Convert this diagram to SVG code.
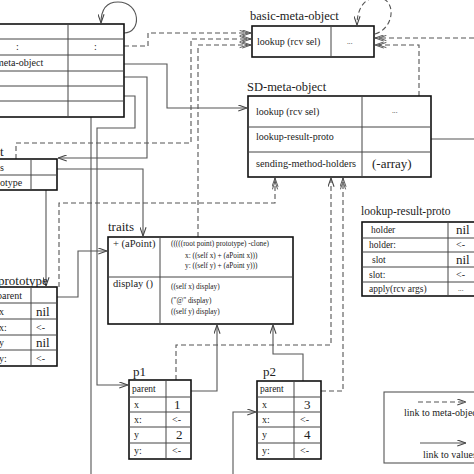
<svg xmlns="http://www.w3.org/2000/svg" width="474" height="474" viewBox="0 0 474 474">
<defs>
<style>
.box{fill:#fff;stroke:#111;stroke-width:1.6}
.cl{stroke:#444;stroke-width:1;fill:none}
.ln{stroke:#555;stroke-width:1.1;fill:none}
.dl{stroke:#555;stroke-width:1.1;fill:none;stroke-dasharray:5,3}
text{font-family:"Liberation Serif","Times New Roman",serif;fill:#222}
.t{font-size:12.5px}
.c{font-size:10px}
.s{font-size:7.3px}
.v{font-size:13px}
</style>
<marker id="a" viewBox="0 0 10 8" refX="10" refY="4" markerWidth="9" markerHeight="7" orient="auto" markerUnits="userSpaceOnUse"><path d="M0,0.5 L10,4 L0,7.5" fill="none" stroke="#444" stroke-width="1.2"/></marker>
<marker id="d" viewBox="0 0 13 8" refX="13" refY="4" markerWidth="12" markerHeight="7" orient="auto" markerUnits="userSpaceOnUse"><path d="M3,0.5 L13,4 L3,7.5 M0,1 L9,4 L0,7" fill="none" stroke="#444" stroke-width="1"/></marker>
</defs>
<rect width="474" height="474" fill="#fff"/>

<g id="connectors">
<path class="ln" d="M91,64 L167,64 L167,108 L247,108" marker-end="url(#a)"/>
<path class="ln" d="M91,77 L147,77 L147,158 L58,158" marker-end="url(#a)"/>
<path class="ln" d="M91,96 L135,96 L135,128 L97,128 L97,385 L128,385" marker-end="url(#a)"/>
<path class="ln" d="M91,112 L91,474"/>
<path class="ln" d="M46,169 L143,169 L143,236" marker-end="url(#a)"/>
<path class="ln" d="M46,179 L46,286" marker-end="url(#a)"/>
<path class="ln" d="M41,297 L78,297 L78,251 L107,251" marker-end="url(#a)"/>
<path class="ln" d="M181,391 L217,391 L217,325" marker-end="url(#a)"/>
<path class="ln" d="M303,389 L303,354 L273,354 L273,325" marker-end="url(#a)"/>
<path class="ln" d="M233,474 L233,412 L256,412" marker-end="url(#a)"/>
<path class="ln" d="M393,139 L474,139"/>
<path class="ln" d="M107,33 L124,33 C142,33 141,2 118,2 C105,2 101,12 101,23" marker-end="url(#a)"/>
<path class="dl" d="M124,46 L148,46 L148,33 L251,33" marker-end="url(#d)"/>
<path class="dl" d="M16,159 L16,143 L191,143 L191,39 L251,39" marker-end="url(#d)"/>
<path class="dl" d="M198,237 L198,45 L251,45" marker-end="url(#d)"/>
<path class="dl" d="M59,287 L59,203 L275,203 L275,178" marker-end="url(#d)"/>
<path class="dl" d="M176,380 L176,345 L331,345 L331,178" marker-end="url(#a)"/>
<path class="dl" d="M321,391 L343,391 L343,178" marker-end="url(#d)"/>
<path class="dl" d="M419,96 L419,45 L375,45" marker-end="url(#d)"/>
<path class="dl" d="M474,38 L375,38" marker-end="url(#d)"/>
<path class="dl" d="M375,34 C395,28 396,0 380,-2 C365,-4 357,8 357,25" marker-end="url(#a)"/>
</g>

<g id="top-object">
<rect class="box" x="-5" y="24" width="129" height="93"/>
<path class="cl" d="M-5,39H124M-5,55H124M-5,71H124M-5,86H124M-5,101H124M68,24V117"/>
<text class="c" x="16" y="50">:</text>
<text class="c" x="94" y="50">:</text>
<text class="c" x="-4" y="66">meta-object</text>
</g>

<g id="basic-meta-object">
<text class="t" x="250" y="20">basic-meta-object</text>
<rect class="box" x="252" y="26" width="122" height="31"/>
<path class="cl" d="M331,26V57"/>
<text class="c" x="257" y="45">lookup (rcv sel)</text>
<text class="s" x="347" y="44">...</text>
</g>

<g id="sd-meta-object">
<text class="t" x="247" y="91">SD-meta-object</text>
<rect class="box" x="248" y="96" width="183" height="81"/>
<path class="cl" d="M248,127H431M248,152H431M362,96V177"/>
<text class="c" x="256" y="115">lookup (rcv sel)</text>
<text class="s" x="392" y="113">...</text>
<text class="c" x="256" y="140">lookup-result-proto</text>
<text class="c" x="256" y="167" style="font-size:10.3px">sending-method-holders</text>
<text class="v" x="372" y="168">(-array)</text>
</g>

<g id="root-point">
<text class="v" x="0" y="156">t</text>
<rect class="box" x="-5" y="159" width="62" height="31"/>
<path class="cl" d="M-5,175H57M31,159V190"/>
<text class="c" x="0" y="171">s</text>
<text class="c" x="0" y="186">otype</text>
</g>

<g id="root-prototype">
<text class="v" x="-2" y="285">prototype</text>
<rect class="box" x="-5" y="287" width="62" height="79"/>
<path class="cl" d="M-5,303H57M-5,319H57M-5,335H57M-5,350H57M31,287V366"/>
<text class="c" x="-3" y="299">parent</text>
<text class="c" x="-1" y="315">x</text>
<text class="v" x="36" y="316">nil</text>
<text class="c" x="-1" y="331">x:</text>
<text class="c" x="36" y="331">&lt;-</text>
<text class="c" x="-1" y="346">y</text>
<text class="v" x="36" y="347">nil</text>
<text class="c" x="-1" y="362">y:</text>
<text class="c" x="36" y="362">&lt;-</text>
</g>

<g id="traits">
<text class="v" x="108" y="231">traits</text>
<rect class="box" x="108" y="237" width="185" height="87"/>
<path class="cl" d="M108,277H293M160,237V324"/>
<text class="c" x="113" y="247" style="font-size:10.5px">+ (aPoint)</text>
<text class="s" x="171" y="246">(((((root point) prototype) -clone)</text>
<text class="s" x="185" y="258">x: ((self x) + (aPoint x)))</text>
<text class="s" x="185" y="268">y: ((self y) + (aPoint y)))</text>
<text class="c" x="113" y="287" style="font-size:10.5px">display ()</text>
<text class="s" x="171" y="289">((self x) display)</text>
<text class="s" x="171" y="303">("@" display)</text>
<text class="s" x="171" y="314">((self y) display)</text>
</g>

<g id="lookup-result-proto">
<text class="t" x="361" y="215" style="font-size:11.5px">lookup-result-proto</text>
<rect class="box" x="362" y="222" width="120" height="74"/>
<path class="cl" d="M362,238H482M362,252H482M362,267H482M362,282H482M448,222V296"/>
<text class="c" x="371" y="233" style="font-size:9.5px">holder</text>
<text class="v" x="456" y="234">nil</text>
<text class="c" x="369" y="248" style="font-size:9.5px">holder:</text>
<text class="c" x="456" y="248">&lt;-</text>
<text class="c" x="372" y="263" style="font-size:9.5px">slot</text>
<text class="v" x="456" y="264">nil</text>
<text class="c" x="369" y="278" style="font-size:9.5px">slot:</text>
<text class="c" x="456" y="278">&lt;-</text>
<text class="c" x="369" y="292" style="font-size:9.5px">apply(rcv args)</text>
<text class="s" x="458" y="291">...</text>
</g>

<g id="p1">
<text class="v" x="133" y="376">p1</text>
<rect class="box" x="129" y="380" width="62" height="79"/>
<path class="cl" d="M129,397H191M129,412H191M129,427H191M129,443H191M166,380V459"/>
<text class="c" x="132" y="392" style="font-size:9.5px">parent</text>
<text class="c" x="134" y="408">x</text>
<text class="v" x="174" y="409">1</text>
<text class="c" x="134" y="423">x:</text>
<text class="c" x="172" y="423">&lt;-</text>
<text class="c" x="134" y="438">y</text>
<text class="v" x="176" y="439">2</text>
<text class="c" x="134" y="454">y:</text>
<text class="c" x="172" y="454">&lt;-</text>
</g>

<g id="p2">
<text class="v" x="263" y="376">p2</text>
<rect class="box" x="257" y="381" width="64" height="78"/>
<path class="cl" d="M257,397H321M257,412H321M257,427H321M257,443H321M294,381V459"/>
<text class="c" x="260" y="392" style="font-size:9.5px">parent</text>
<text class="c" x="262" y="408">x</text>
<text class="v" x="304" y="409">3</text>
<text class="c" x="262" y="423">x:</text>
<text class="c" x="300" y="423">&lt;-</text>
<text class="c" x="262" y="438">y</text>
<text class="v" x="304" y="439">4</text>
<text class="c" x="262" y="454">y:</text>
<text class="c" x="300" y="454">&lt;-</text>
</g>

<g id="legend">
<rect x="384" y="392" width="98" height="71" fill="#fff" stroke="#555" stroke-width="1.1"/>
<path class="dl" d="M418,402 L466,402" marker-end="url(#a)"/>
<text class="c" x="404" y="416">link to meta-object</text>
<path class="ln" d="M420,443 L466,443" marker-end="url(#a)"/>
<text class="c" x="423" y="458">link to values</text>
</g>
</svg>
